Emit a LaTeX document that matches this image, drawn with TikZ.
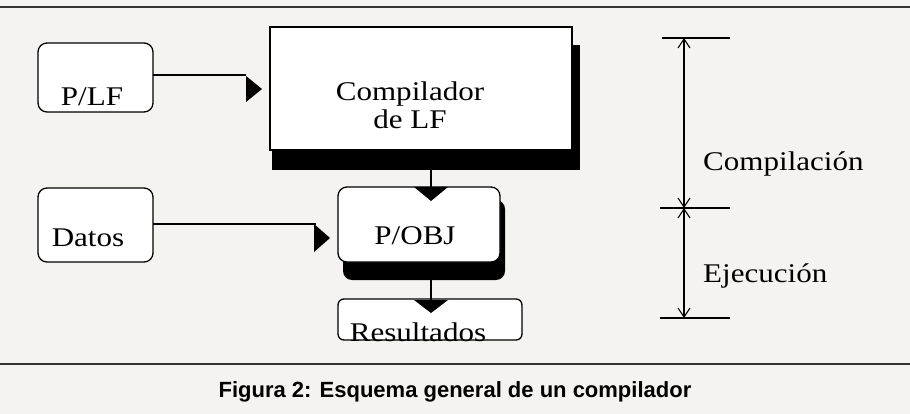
\documentclass[tikz,border=0pt]{standalone}
\usepackage{fontspec}
\usetikzlibrary{arrows.meta}
\setmainfont{Liberation Serif}
\newfontfamily\capfont{Liberation Sans}
\begin{document}
\begin{tikzpicture}[x=1pt,y=-1pt,
  box/.style={draw=black,line width=1.3pt,rounded corners=9pt,fill=white},
  sq/.style={draw=black,line width=1.3pt,fill=white},
  shad/.style={fill=black},
  tri/.style={fill=black},
  ln/.style={line width=1.1pt},
  lbl/.style={font=\fontsize{27}{29}\selectfont,inner sep=0pt}]
\fill[fill={rgb,255:red,244;green,243;blue,241}] (0,0) rectangle (910,414);
\useasboundingbox (0,0) rectangle (910,414);
\draw[line width=2pt,black!80] (0,7) -- (910,7);
\draw[line width=1.5pt,black!80] (0,364) -- (910,364);
% P/LF
\draw[box] (38,43) rectangle (153,112);
\node[lbl] (plf) at (92,97) {\scalebox{1.15}[1]{P/LF}};
\coordinate (plfE) at (153,75);
% compiler
\fill[shad] (272,45) rectangle (580,170);
\draw[sq] (270,27) rectangle (572,150);
\node[lbl,align=center] (comp) at (410,105) {\scalebox{1.15}[1]{Compilador}\\[-1pt]\scalebox{1.15}[1]{de LF}};
\coordinate (compIn) at (246,75);
\draw[ln] (plfE) -- (compIn);
\fill[tri] (246,76) -- (262,89) -- (246,102) -- cycle;
% Datos
\draw[box] (38,188) rectangle (153,262);
\node[lbl] (datos) at (88,238) {\scalebox{1.15}[1]{Datos}};
\coordinate (datE) at (153,224);
% P/OBJ
\fill[shad,rounded corners=9pt] (343,200) rectangle (505,280);
\draw[box] (338,187) rectangle (500,262);
\node[lbl] (pobj) at (415,236) {\scalebox{1.15}[1]{P/OBJ}};
\coordinate (objIn) at (316,224);
\draw[ln] (datE) -- (objIn);
\fill[tri] (314,224) -- (330,238) -- (314,252) -- cycle;
\coordinate (c1) at (431,170);
\coordinate (c2) at (431,188);
\draw[ln] (c1) -- (c2);
\fill[tri] (414,187) -- (448,187) -- (431,201) -- cycle;
% Resultados
\draw[box,rounded corners=6pt] (338,299) rectangle (522,340);
\node[lbl] (res) at (418,332) {\scalebox{1.15}[1]{Resultados}};
\coordinate (c3) at (431,280);
\coordinate (c4) at (431,300);
\draw[ln] (c3) -- (c4);
\fill[tri] (414,300) -- (448,300) -- (431,313) -- cycle;
% dimension lines
\coordinate (t1) at (662,38); \coordinate (t2) at (730,38);
\coordinate (m1) at (660,208); \coordinate (m2) at (730,208);
\coordinate (b1) at (660,318); \coordinate (b2) at (730,318);
\draw[ln] (t1) -- (t2); \draw[ln] (m1) -- (m2); \draw[ln] (b1) -- (b2);
\draw[ln,<->,>={Straight Barb[length=9pt,width=12pt]}] (684,38) -- (684,208);
\draw[ln,<->,>={Straight Barb[length=9pt,width=12pt]}] (684,208) -- (684,318);
\node[lbl,anchor=west] (cl) at (703,164) {\scalebox{1.15}[1]{Compilación}};
\node[lbl,anchor=west] (ej) at (703,276) {\scalebox{1.15}[1]{Ejecución}};
% caption
\node[font=\capfont\bfseries\fontsize{22}{24}\selectfont,inner sep=0pt] (cap) at (455,392) {Figura 2: Esquema general de un compilador};
\end{tikzpicture}
\end{document}
